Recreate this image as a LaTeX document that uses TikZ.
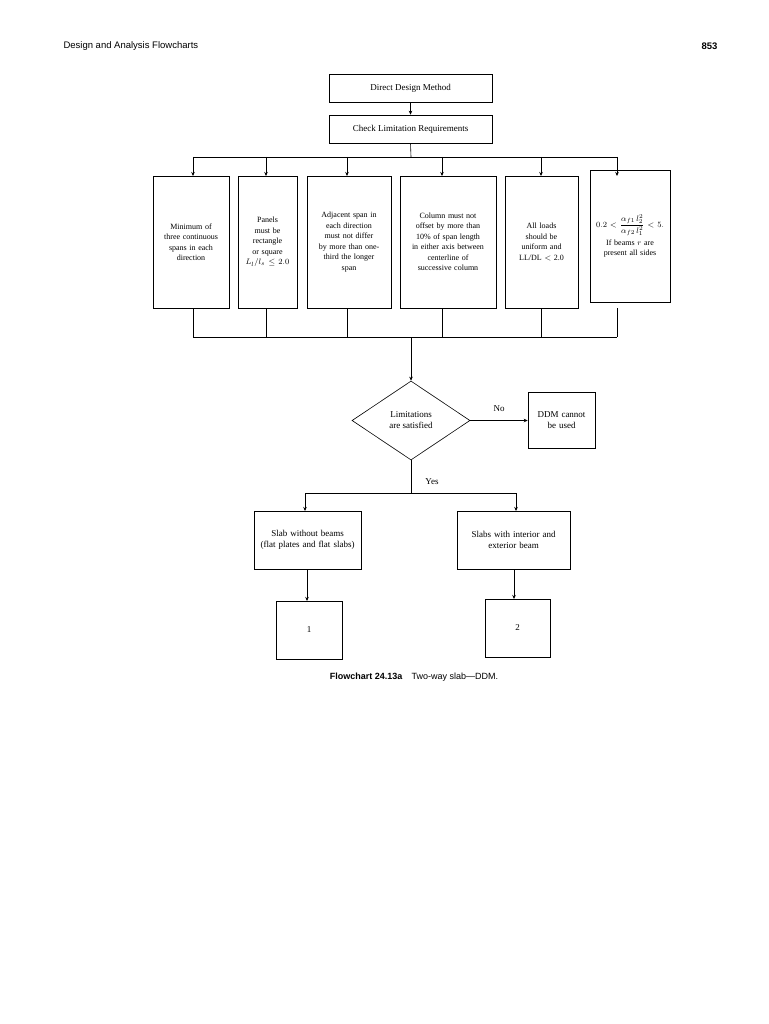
\documentclass[tikz,border=0pt]{standalone}
\usepackage{amsmath}
\usepackage{fontspec}
\setmainfont{Liberation Serif}
\newfontfamily\hsans{Liberation Sans}
\usetikzlibrary{arrows.meta,shapes.geometric}
\begin{document}
\begin{tikzpicture}[x=1pt,y=-1pt,
  bx/.style={draw,line width=0.6pt,inner sep=1pt,align=center,font=\fontsize{9}{11}\selectfont},
  cb/.style={draw,line width=0.6pt,inner sep=1pt,align=center,font=\fontsize{8}{10.5}\selectfont},
  ln/.style={line width=0.6pt},
  ar/.style={line width=0.6pt,-{Stealth[length=4pt,width=3.5pt]}}]
\useasboundingbox (0,0) rectangle (768,1024);
\node[anchor=west,font=\hsans\fontsize{9.5}{10}\selectfont] (hd) at (60,46) {Design and Analysis Flowcharts};
\node[anchor=east,font=\hsans\bfseries\fontsize{9.5}{10}\selectfont] (pg) at (721,46) {853};
\node[bx,minimum width=163,minimum height=28] (dd) at (410.5,88) {Direct Design Method};
\node[bx,minimum width=163,minimum height=28] (cl) at (410.5,129) {Check Limitation Requirements};
\draw[ar] (dd) -- (cl);
\node[cb,minimum width=76,minimum height=132,text width=74] (b1) at (191,242) {Minimum of\\three continuous\\spans in each\\direction};
\node[cb,minimum width=59,minimum height=132,text width=57] (b2) at (267.5,242) {Panels\\must be\\rectangle\\or square\\$L_l/l_s\le 2.0$};
\node[cb,minimum width=84,minimum height=132,text width=82] (b3) at (349,242) {Adjacent span in\\each direction\\must not differ\\by more than one-\\third the longer\\span};
\node[cb,minimum width=96,minimum height=132,text width=94] (b4) at (448,242) {Column must not\\offset by more than\\10\% of span length\\in either axis between\\centerline of\\successive column};
\node[cb,minimum width=73,minimum height=132,text width=71] (b5) at (541.5,242) {All loads\\should be\\uniform and\\LL/DL $<$ 2.0};
\node[cb,minimum width=80,minimum height=132,text width=78] (b6) at (630,236) {$0.2<\dfrac{\alpha_{f1}\,l_2^2}{\alpha_{f2}\,l_1^2}<5.$\\[3pt]If beams $r$ are\\present all sides\\[8pt]};
\coordinate (t) at (411,157);
\coordinate (m) at (411,337);
\draw[ln] (cl.south) -- (t);
\draw[ln] (193,157) -- (617,157);
\draw[ln] (193,337) -- (617,337);
\foreach \n/\x in {b1/193,b2/266,b3/347,b4/442,b5/541,b6/617}{
  \draw[ar] (\x,157) -- (\x,176);
  \draw[ln] (\x,308) -- (\x,337);
}
\node[diamond,draw,line width=0.6pt,minimum width=118,minimum height=79,inner sep=0,aspect=1.5,align=center,font=\fontsize{9}{11}\selectfont] (dm) at (411,420.5) {Limitations\\are satisfied};
\draw[ar] (m) -- (dm.north);
\node[bx,minimum width=67,minimum height=56,text width=65] (no) at (561.5,420.5) {DDM cannot\\be used\\[8pt]};
\draw[ar] (dm.east) -- (no.west) node[midway,above=5pt,font=\fontsize{9}{10}\selectfont] (nol) {No};
\node[bx,minimum width=107,minimum height=58,text width=105,anchor=north] (s1) at (307.5,511) {Slab without beams\\(flat plates and flat slabs)\\[12pt]};
\node[bx,minimum width=113,minimum height=58,text width=111,anchor=north] (s2) at (513.5,511) {Slabs with interior and\\exterior beam\\[12pt]};
\coordinate (y) at (411,493);
\draw[ln] (dm.south) -- (y);
\node[font=\fontsize{9}{10}\selectfont] (yl) at (432,482) {Yes};
\draw[ln] (305,493) -- (516,493);
\draw[ar] (305,493) -- (305,511);
\draw[ar] (516,493) -- (516,511);
\node[bx,minimum width=66,minimum height=58] (o1) at (309,630) {1};
\node[bx,minimum width=65,minimum height=58] (o2) at (517.5,628) {2};
\draw[ar] (307,569) -- (307,601);
\draw[ar] (514,569) -- (514,599);
\node[font=\hsans\fontsize{9}{10}\selectfont] (cap) at (414,677) {\textbf{Flowchart 24.13a}\quad Two-way slab—DDM.};
\end{tikzpicture}
\end{document}
